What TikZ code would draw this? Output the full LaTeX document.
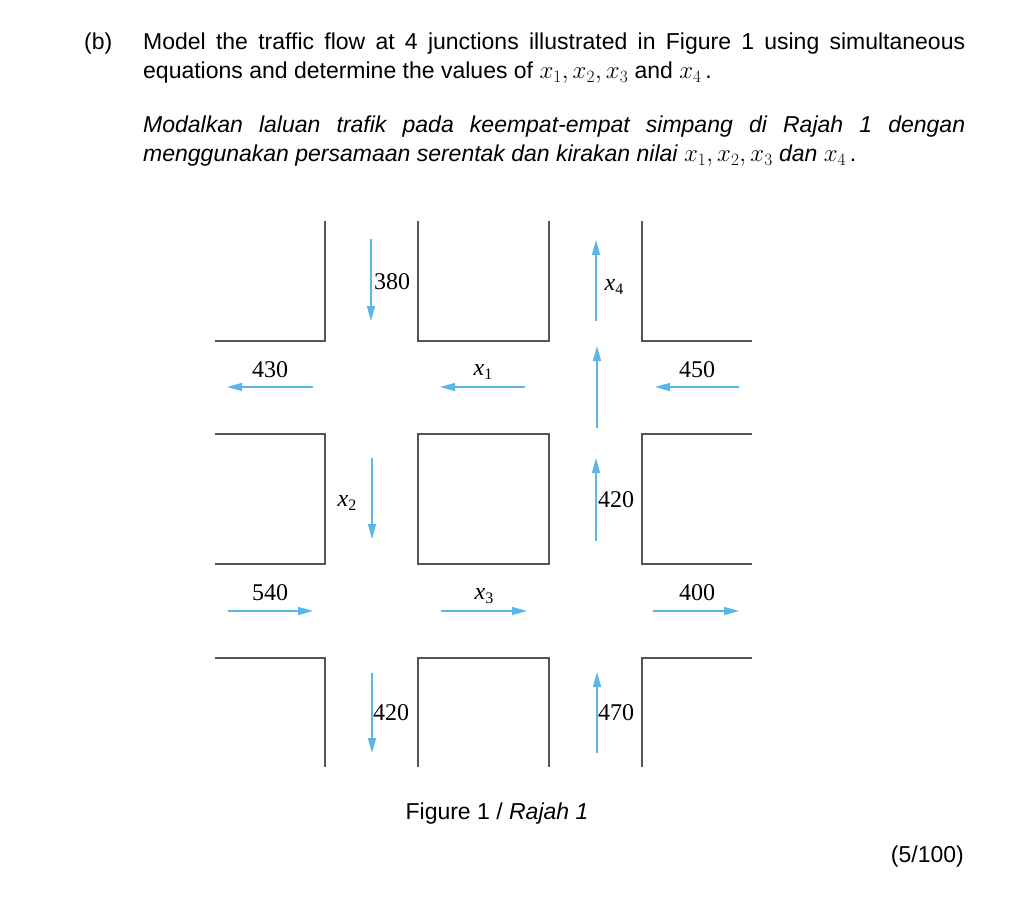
\documentclass[tikz,border=0pt]{standalone}
\usepackage{fontspec}
\setmainfont{Liberation Sans}
\newfontfamily\serifx{Liberation Serif}
\usetikzlibrary{arrows.meta}
\definecolor{road}{RGB}{85,85,85}
\definecolor{flow}{RGB}{88,182,232}
\newcommand{\xv}[1]{{\serifx\itshape x}\kern0.3pt\raisebox{-4pt}{\serifx\fontsize{16}{16}\selectfont #1}}
\tikzset{
  wall/.style={draw=road, line width=1.6pt},
  flowarrow/.style={draw=flow, line width=1.4pt, -{Triangle[length=15pt,width=8pt]}},
  lab/.style={inner sep=0pt, font=\serifx\fontsize{24}{24}\selectfont},
  txt/.style={inner sep=0pt, anchor=base west, font=\fontsize{23}{29}\selectfont}
}
\begin{document}
\begin{tikzpicture}[x=1pt,y=-1pt]
\useasboundingbox[fill=white] (0,0) rectangle (1024,917);
% header text
\node[txt] (b) at (84,50) {(b)};
\node[txt] (l1) at (143,50) {\makebox[822pt][s]{Model the traffic flow at 4 junctions illustrated in Figure 1 using simultaneous}};
\node[txt] (l2) at (143,79) {equations and determine the values of $x_1, x_2, x_3$ and $x_4$\,.};
\node[txt] (l3) at (143,133) {\makebox[822pt][s]{\itshape Modalkan laluan trafik pada keempat-empat simpang di Rajah 1 dengan}};
\node[txt] (l4) at (143,162) {\itshape menggunakan persamaan serentak dan kirakan nilai \upshape$x_1, x_2, x_3$ \itshape dan \upshape$x_4$\,.};
% road edges
\draw[wall] (325,221) -- (325,341) -- (215,341);
\draw[wall] (418,221) -- (418,341) -- (549,341) -- (549,221);
\draw[wall] (642,221) -- (642,341) -- (752,341);
\draw[wall] (215,434) -- (325,434) -- (325,564) -- (215,564);
\draw[wall] (418,434) rectangle (549,564);
\draw[wall] (752,434) -- (642,434) -- (642,564) -- (752,564);
\draw[wall] (215,658) -- (325,658) -- (325,767);
\draw[wall] (418,767) -- (418,658) -- (549,658) -- (549,767);
\draw[wall] (642,767) -- (642,658) -- (752,658);
% flows
\draw[flowarrow] (371,239) -- (371,321);
\draw[flowarrow] (313,387) -- (227,387);
\draw[flowarrow] (525,387) -- (440,387);
\draw[flowarrow] (596,321) -- (596,240);
\draw[flowarrow] (597,428) -- (597,346);
\draw[flowarrow] (739,387) -- (655,387);
\draw[flowarrow] (372,458) -- (372,539);
\draw[flowarrow] (228,611) -- (313,611);
\draw[flowarrow] (441,611) -- (527,611);
\draw[flowarrow] (596,541) -- (596,458);
\draw[flowarrow] (653,611) -- (739,611);
\draw[flowarrow] (372,673) -- (372,753);
\draw[flowarrow] (597,753) -- (597,672);
% labels
\node[lab, anchor=west] (n380) at (374,282) {380};
\node[lab] (n430) at (270,370) {430};
\node[lab] (nx1) at (483,372) {\xv{1}};
\node[lab] (nx4) at (614,287) {\xv{4}};
\node[lab] (n450) at (697,370) {450};
\node[lab] (nx2) at (347,503) {\xv{2}};
\node[lab] (n540) at (270,593) {540};
\node[lab] (nx3) at (484,596) {\xv{3}};
\node[lab, anchor=west] (n420m) at (598,500) {420};
\node[lab] (n400) at (697,593) {400};
\node[lab, anchor=west] (n420b) at (373,713) {420};
\node[lab, anchor=west] (n470) at (598,713) {470};
% caption
\node[inner sep=0pt, anchor=base, font=\fontsize{23}{27}\selectfont] (cap) at (497,819) {Figure 1 / \textit{Rajah 1}};
\node[inner sep=0pt, anchor=base east, font=\fontsize{23}{27}\selectfont] (marks) at (964,862) {(5/100)};
\end{tikzpicture}
\end{document}
